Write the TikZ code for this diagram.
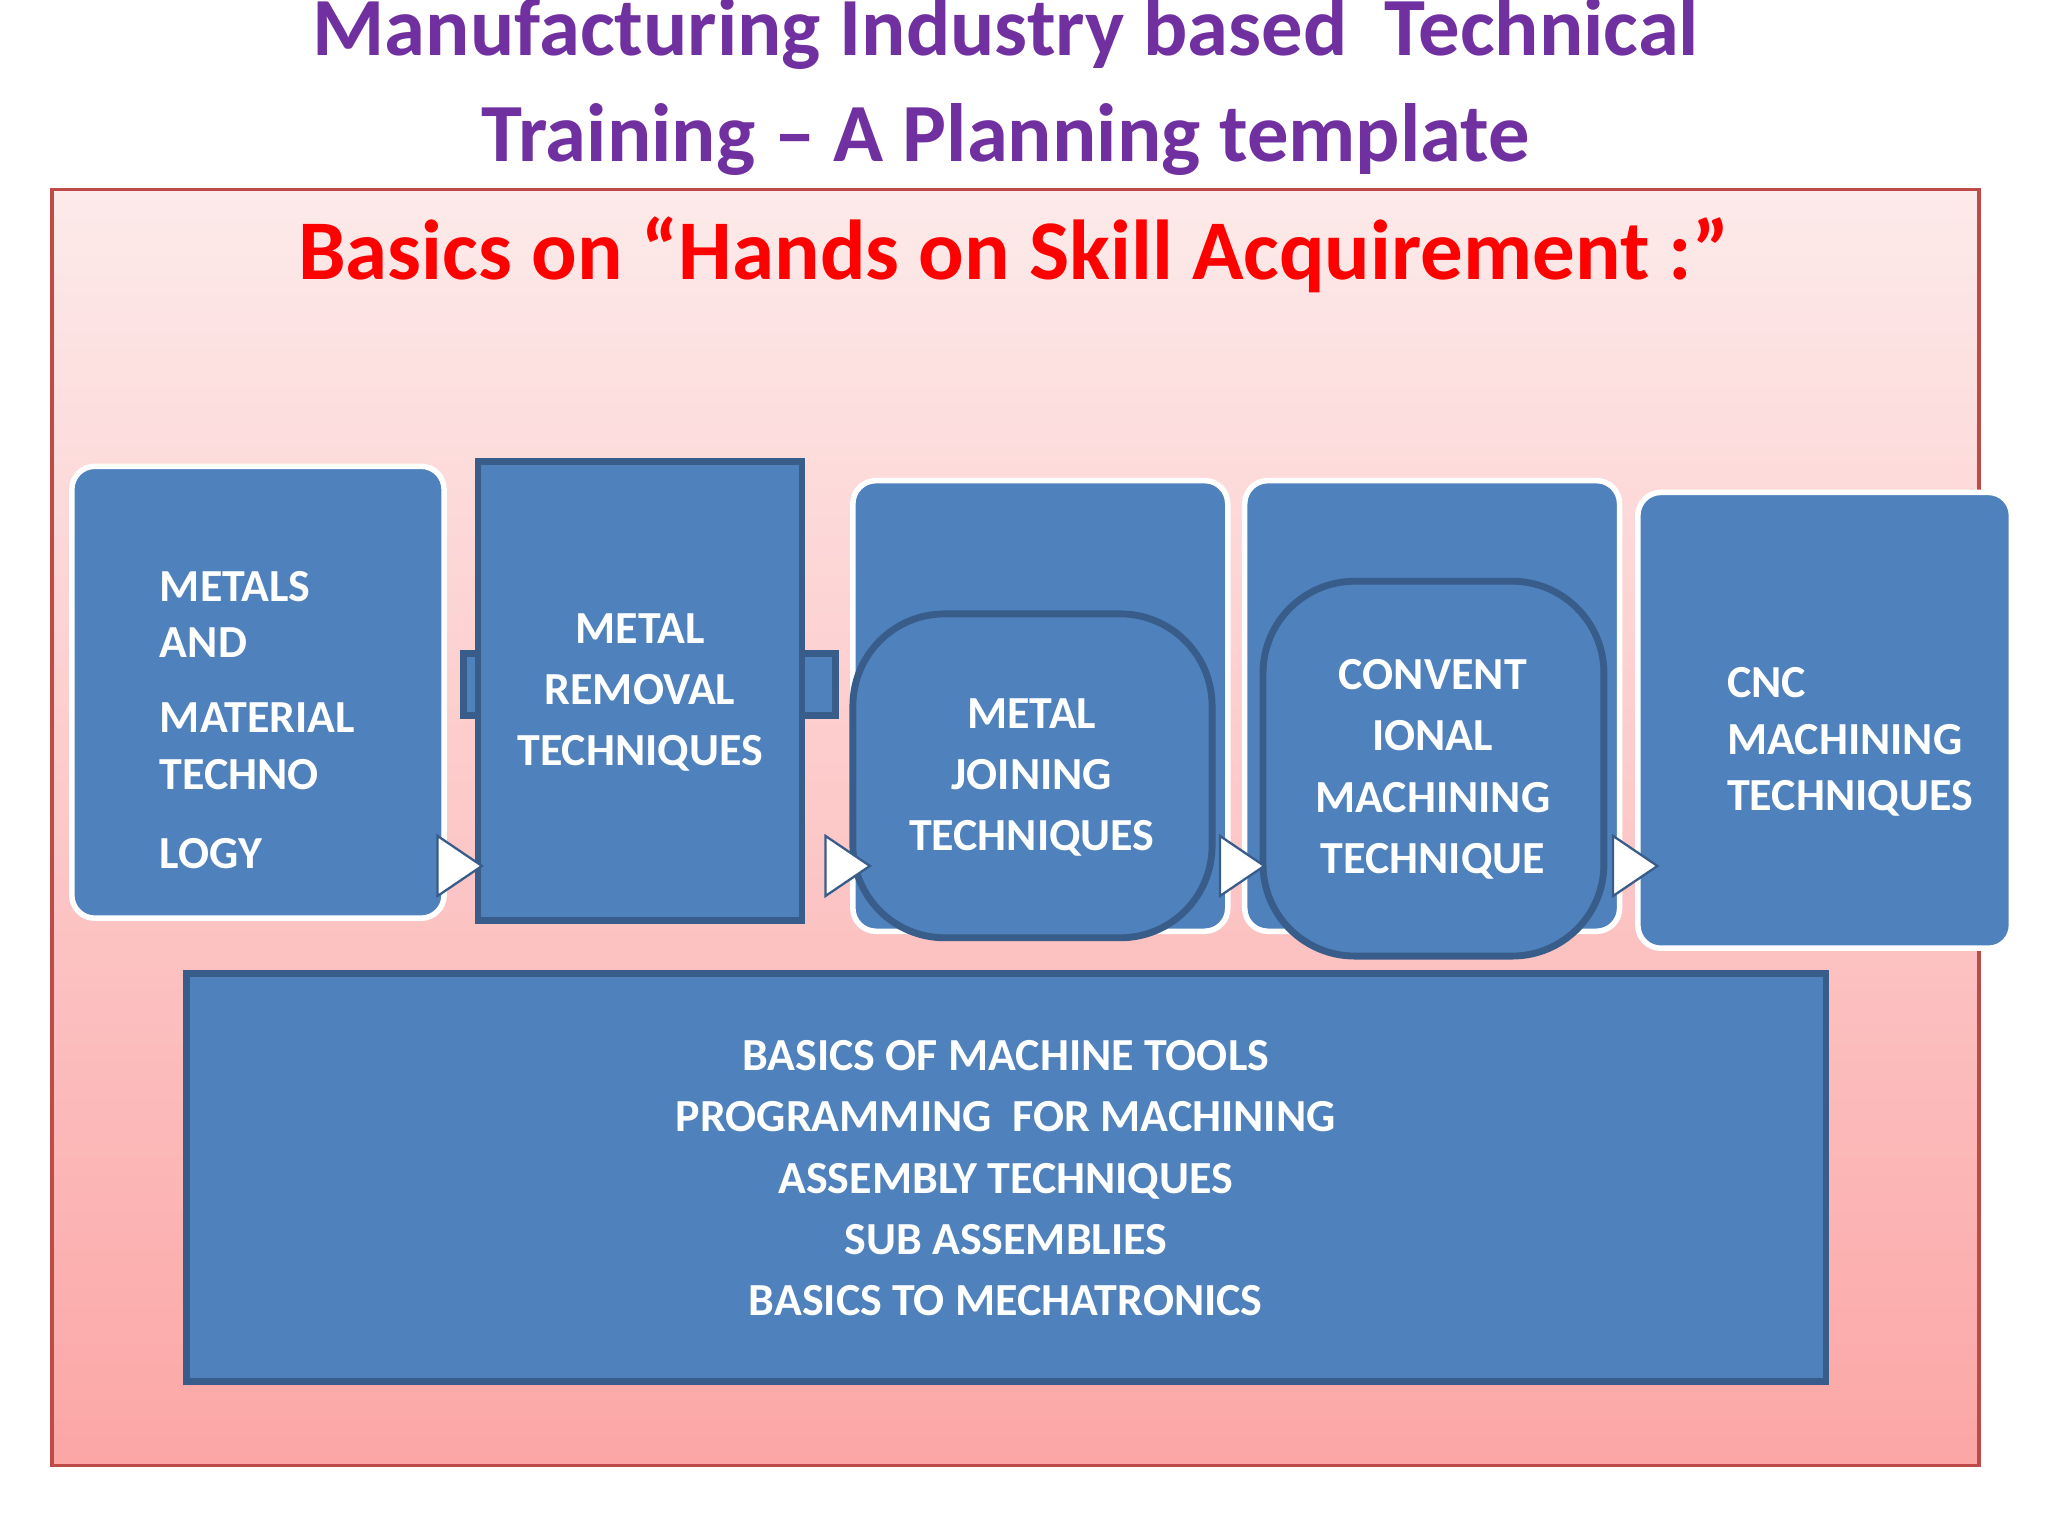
\documentclass[tikz,border=0pt]{standalone}
\usepackage{fontspec}
\setmainfont{Carlito}
\usetikzlibrary{positioning}
\definecolor{ttlpurple}{RGB}{112,48,160}
\definecolor{boxblue}{RGB}{79,129,189}
\definecolor{boxedge}{RGB}{56,93,138}
\definecolor{pinktop}{RGB}{253,234,234}
\definecolor{pinkbot}{RGB}{252,166,166}
\definecolor{frameedge}{RGB}{190,75,72}
\tikzset{
  stage/.style={draw=white,line width=1.2pt,fill=boxblue,rounded corners=5pt},
  stagedark/.style={draw=boxedge,line width=1.5pt,fill=boxblue},
  stagetext/.style={text=white,font=\bfseries\fontsize{10}{13.3}\selectfont,align=center},
  flowtip/.style={fill=white,draw=boxedge,line width=0.5pt}
}
\begin{document}
\begin{tikzpicture}[x=0.01cm,y=-0.01cm]
\useasboundingbox (0,0) rectangle (1568,1176);
% frame
\shade[top color=pinktop,bottom color=pinkbot,draw=frameedge,line width=0.8pt] (40,145) rectangle (1515,1122);
\node[text=ttlpurple,font=\bfseries\fontsize{18}{23}\selectfont,align=center] (title) at (770,66)
  {Manufacturing Industry based\ \ Technical\\Training -- A Planning template};
\node[text=red,font=\bfseries\fontsize{18.5}{22}\selectfont] (sub) at (776,195) {Basics on “Hands on Skill Acquirement :”};
% stages
\draw[stage] (55,357) rectangle (340,703);
\node[stagetext,align=left,anchor=north west,font=\bfseries\fontsize{10}{12.3}\selectfont] (metals) at (110,425)
  {METALS\\AND\\[4pt]MATERIAL\\TECHNO\\[5pt]LOGY};
\draw[stagedark] (355,500) rectangle (640,548);
\draw[stagedark] (366,353) rectangle (614,705);
\node[stagetext] (removal) at (490,530) {METAL\\REMOVAL\\TECHNIQUES};
\draw[stage] (653,368) rectangle (940,713);
\draw[stagedark,rounded corners=20pt] (653,470) rectangle (928,718);
\node[stagetext] (joining) at (790,595) {METAL\\JOINING\\TECHNIQUES};
\draw[stage] (953,368) rectangle (1240,713);
\draw[stagedark,rounded corners=20pt] (967,445) rectangle (1228,732);
\node[stagetext] (conv) at (1097,589) {CONVENT\\IONAL\\MACHINING\\TECHNIQUE};
\draw[stage] (1254,377) rectangle (1540,726);
\node[stagetext,align=left,anchor=west,font=\bfseries\fontsize{10}{12.3}\selectfont] (cnc) at (1310,568) {CNC\\MACHINING\\TECHNIQUES};
% arrow tips
\foreach \tx in {335,632,934,1235}
  \draw[flowtip] (\tx,640) -- (\tx+34,663) -- (\tx,686) -- cycle;
% base box
\draw[stagedark] (143,745) rectangle (1398,1058);
\node[stagetext] (basics) at (770,902)
  {BASICS OF MACHINE TOOLS\\PROGRAMMING\ \ FOR MACHINING\\ASSEMBLY TECHNIQUES\\SUB ASSEMBLIES\\BASICS TO MECHATRONICS};
\end{tikzpicture}
\end{document}
